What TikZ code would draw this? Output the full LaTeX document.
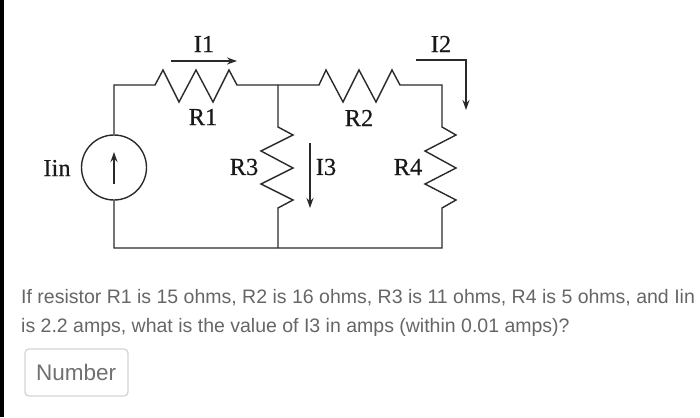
\documentclass[tikz,border=0pt]{standalone}
\usepackage{fontspec}
\setmainfont{Liberation Serif}
\newfontfamily\labfont[FakeBold=0.35]{Liberation Serif}
\newfontfamily\uifont{Liberation Sans}
\usetikzlibrary{arrows.meta}
\definecolor{wirecol}{HTML}{2A2A2A}
\definecolor{uitext}{HTML}{666666}
\definecolor{numtext}{HTML}{707070}
\definecolor{boxline}{HTML}{D4D4D4}
\tikzset{
  wire/.style={draw=wirecol,line width=1.4pt,line join=miter},
  thin arrow/.style={draw=wirecol,line width=1.4pt,-{Stealth[length=10pt,width=7pt]}},
  lab/.style={inner sep=0pt,font=\labfont\fontsize{24.5}{24.5}\selectfont,text=black!90},
  para/.style={inner sep=0pt,anchor=base west,font=\uifont\fontsize{19.5}{19.5}\selectfont,text=uitext},
}
\begin{document}
\begin{tikzpicture}[x=1pt,y=-1pt]
\useasboundingbox (0,0) rectangle (700,417);
\fill[black] (0,0) rectangle (4,417);
% junction and corner points
\coordinate (tl) at (114,85);
\coordinate (tm) at (278,85);
\coordinate (tr) at (442,85);
\coordinate (bl) at (114,248);
\coordinate (bm) at (278,248);
\coordinate (br) at (442,248);
% source
\node[draw=wirecol,line width=1.4pt,circle,minimum size=65pt,inner sep=0pt] (src) at (114,167.5) {};
\coordinate (srcA) at (114,184);
\coordinate (srcB) at (114,152);
\draw[thin arrow] (srcA) -- (srcB);
% outer loop and branches
\draw[wire] (src.north) -- (tl) -- (155,85) -- (163,70) -- (179,102) -- (196,70) -- (213,102) -- (229,70) -- (237,85) -- (tm)
  -- (319,85) -- (326,70) -- (343,102) -- (359,70) -- (376,102) -- (392,70) -- (400,85) -- (tr)
  -- (442,127) -- (456,135) -- (425,151) -- (456,168) -- (425,184) -- (456,200) -- (442,208) -- (br) -- (bm) -- (bl) -- (src.south);
\draw[wire] (tm) -- (278,127) -- (293,135) -- (261,151) -- (293,168) -- (261,184) -- (293,200) -- (278,208) -- (bm);
% current arrows
\coordinate (i1a) at (171,61);
\coordinate (i1b) at (237,61);
\draw[thin arrow] (i1a) -- (i1b);
\coordinate (i2a) at (416,60);
\coordinate (i2c) at (466,60);
\coordinate (i2b) at (466,110);
\draw[thin arrow] (i2a) -- (i2c) -- (i2b);
\coordinate (i3a) at (310,143);
\coordinate (i3b) at (310,208);
\draw[thin arrow] (i3a) -- (i3b);
% labels
\node[lab] (lI1) at (204,44) {I1};
\node[lab] (lR1) at (203,117) {R1};
\node[lab] (lI2) at (441,44) {I2};
\node[lab] (lR2) at (359,118) {R2};
\node[lab] (lIin) at (57,168) {Iin};
\node[lab] (lR3) at (244,167) {R3};
\node[lab] (lI3) at (326,167) {I3};
\node[lab] (lR4) at (408,167) {R4};
% question text
\node[para] (q1) at (21,303) {If resistor R1 is 15 ohms, R2 is 16 ohms, R3 is 11 ohms, R4 is 5 ohms, and Iin};
\node[para] (q2) at (21,332) {is 2.2 amps, what is the value of I3 in amps (within 0.01 amps)?};
% answer box
\draw[boxline,line width=1.3pt,rounded corners=4pt] (25,349) rectangle (128,396);
\node[inner sep=0pt,anchor=base west,font=\uifont\fontsize{22.5}{22.5}\selectfont,text=numtext] (num) at (36,380) {Number};
\end{tikzpicture}
\end{document}
